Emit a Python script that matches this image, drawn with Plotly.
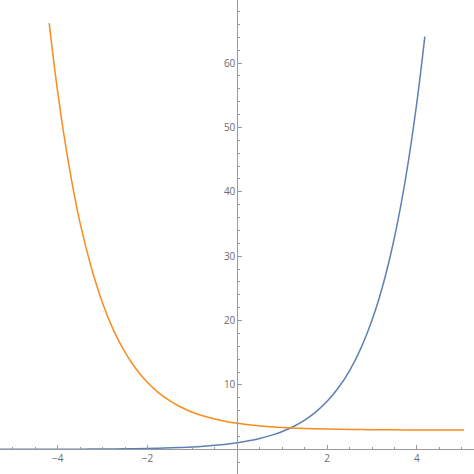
import plotly.graph_objects as go

# values
blue_x = [-5.3, -5.0, -4.5, -4.0, -3.5, -3.0, -2.5, -2.0, -1.75, -1.5, -1.25, -1.0,
          -0.75, -0.5, -0.25, 0.0, 0.25, 0.5, 0.75, 1.0, 1.25, 1.5, 1.75, 2.0,
          2.25, 2.5, 2.75, 3.0, 3.25, 3.5, 3.75, 4.0, 4.175]
blue_y = [0.006, 0.008, 0.012, 0.02, 0.032, 0.053, 0.087, 0.142, 0.182, 0.233, 0.30, 0.38,
          0.49, 0.63, 0.80, 1.03, 1.32, 1.69, 2.17, 2.77, 3.55, 4.55, 5.83, 7.46,
          9.56, 12.24, 15.68, 20.09, 25.73, 32.95, 42.2, 54.0, 64.1]

orange_x = [-4.19, -4.0, -3.75, -3.5, -3.25, -3.0, -2.75, -2.5, -2.25, -2.0, -1.75,
            -1.5, -1.25, -1.0, -0.75, -0.5, -0.25, 0.0, 0.25, 0.5, 0.75, 1.0, 1.5,
            2.0, 2.5, 3.0, 3.5, 4.0, 4.5, 5.05]
orange_y = [66.2, 55.5, 44.1, 35.1, 28.2, 22.7, 18.4, 15.06, 12.44, 10.39, 8.78,
            7.53, 6.54, 5.77, 5.17, 4.70, 4.33, 4.04, 3.81, 3.64, 3.50, 3.39, 3.24,
            3.15, 3.09, 3.06, 3.03, 3.02, 3.01, 3.01]

x_ticks = [-4, -2, 2, 4]
y_ticks = [10, 20, 30, 40, 50, 60]

x_range = [-5.285, 5.27]
y_range = [-3.83, 69.8]

fig = go.Figure()
fig.add_trace(go.Scatter(x=blue_x, y=blue_y, mode="lines",
                         line=dict(color="#5E81B5", width=1.5, shape="spline", smoothing=1)))
fig.add_trace(go.Scatter(x=orange_x, y=orange_y, mode="lines",
                         line=dict(color="#F98C1C", width=1.5, shape="spline", smoothing=1)))

# put the axes through the origin
x_pos = (0 - x_range[0]) / (x_range[1] - x_range[0])
y_pos = (0 - y_range[0]) / (y_range[1] - y_range[0])

axis_style = dict(showgrid=False, zeroline=False, showline=True, linecolor="#9a9a9a",
                  linewidth=1, ticks="inside", tickcolor="#9a9a9a", tickwidth=1,
                  tickfont=dict(family="Open Sans", size=10, color="#6b6b6b"),
                  anchor="free", automargin=False, fixedrange=True)

fig.update_layout(
    width=474, height=474,
    margin=dict(l=0, r=0, t=0, b=0),
    paper_bgcolor="white", plot_bgcolor="white",
    showlegend=False,
    xaxis=dict(range=x_range, tickvals=x_ticks, ticklen=4, position=y_pos,
               minor=dict(dtick=0.5, ticklen=2, tickcolor="#9a9a9a", ticks="inside"),
               **axis_style),
    yaxis=dict(range=y_range, tickvals=y_ticks, ticklen=4, position=x_pos,
               minor=dict(dtick=2, ticklen=2, tickcolor="#9a9a9a", ticks="inside"),
               **axis_style),
)

# drop the page's default body margin so the chart sits at the window corner
fig.write_html("out.html", config={"displayModeBar": False},
               post_script="document.body.style.margin='0';document.body.style.overflow='hidden';")
